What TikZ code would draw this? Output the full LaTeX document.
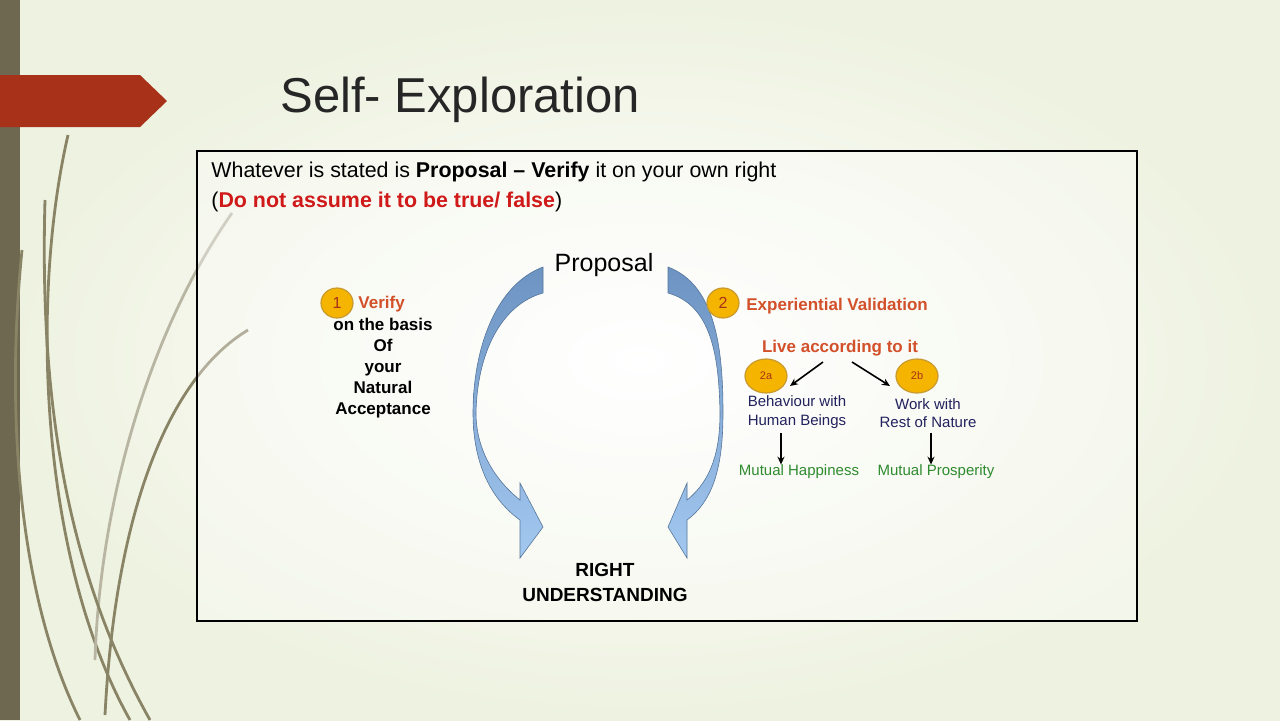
\documentclass[tikz,border=0pt]{standalone}
\usepackage{fontspec}
\setmainfont{Liberation Sans}
\usetikzlibrary{arrows.meta}
\definecolor{bgc}{HTML}{EEF2E0}
\definecolor{strip}{HTML}{6E6850}
\definecolor{redarr}{HTML}{A8311A}
\definecolor{grass}{HTML}{8A8466}
\definecolor{redt}{HTML}{D01A1A}
\definecolor{orng}{HTML}{D2502A}
\definecolor{navy}{HTML}{22225E}
\definecolor{grn}{HTML}{2E8B2E}
\definecolor{cfill}{HTML}{F5B400}
\definecolor{cdraw}{HTML}{C89A30}
\definecolor{blueA}{HTML}{6C93C2}
\definecolor{blueB}{HTML}{A3C8F0}
\tikzset{
  circ/.style={ellipse, fill=cfill, draw=cdraw, line width=0.6pt, minimum width=16pt, minimum height=15pt, inner sep=0pt, text=orng},
  body/.style={font=\fontsize{8.5}{10}\selectfont\bfseries, align=center, inner sep=0pt},
  blk/.style={-{Stealth[length=4pt,width=3.5pt]}, line width=0.8pt},
  bigarrow/.style={top color=blueA, bottom color=blueB, draw=blueA!80!black, line width=0.3pt}
}
\usetikzlibrary{shapes.geometric}
\begin{document}
\begin{tikzpicture}[x=0.5pt,y=-0.5pt]
\useasboundingbox (0,0) rectangle (1280,720);
\shade[inner color=white, outer color=bgc] (0,0) rectangle (1280,720);
\fill[strip] (0,0) rectangle (20,720);
% grass
\begin{scope}[grass, line width=1.4pt]
\draw (130,720) .. controls (40,560) and (30,300) .. (68,135);
\draw (80,720) .. controls (20,600) and (5,420) .. (22,250);
\draw (105,715) .. controls (115,520) and (165,380) .. (248,330);
\draw[grass!60] (95,660) .. controls (100,500) and (150,330) .. (232,213);
\draw (150,720) .. controls (60,560) and (40,380) .. (45,200);
\end{scope}
\fill[redarr] (0,75) -- (140,75) -- (167,101) -- (140,127) -- (0,127) -- cycle;
\node[anchor=west, font=\fontsize{24.5}{28}\selectfont, text=black!85, inner sep=0] (title) at (280,100) {Self- Exploration};
\draw[black, line width=0.7pt, fill=white, fill opacity=0.35] (197,151) rectangle (1137,621);
\node[anchor=west, font=\fontsize{10.7}{12}\selectfont, inner sep=0] (l1) at (211,172) {Whatever is stated is \textbf{Proposal -- Verify} it on your own right};
\node[anchor=west, font=\fontsize{10.7}{12}\selectfont, inner sep=0] (l2) at (211,202) {(\textcolor{redt}{\textbf{Do not assume it to be true/ false}})};
% big arrows
\path[bigarrow] (543,267) .. controls (495,285) and (473,350) .. (473,413)
  .. controls (473,465) and (492,500) .. (520,520) -- (520,558) -- (543,527) -- (520,483) -- (520,500)
  .. controls (495,480) and (476,450) .. (476,413) .. controls (477,355) and (500,305) .. (543,293) -- cycle;
\path[bigarrow] (668,267) .. controls (716,285) and (723,350) .. (723,413)
  .. controls (723,465) and (714,500) .. (687,520) -- (687,558) -- (668,527) -- (687,483) -- (687,500)
  .. controls (712,480) and (720,450) .. (720,413) .. controls (719,355) and (711,305) .. (668,293) -- cycle;
\node[font=\fontsize{12.5}{14}\selectfont] (prop) at (604,265) {Proposal};
\node[body, font=\fontsize{9.5}{12.5}\selectfont\bfseries] (ru) at (605,582) {RIGHT\\UNDERSTANDING};
% left
\node[circ, text=redarr] (c1) at (337,303) {\fontsize{8}{9}\selectfont 1};
\node[anchor=west, body, text=orng] (ver) at (358,304) {Verify};
\node[body, font=\fontsize{8.5}{10.6}\selectfont\bfseries] (basis) at (383,368) {on the basis\\Of\\your\\Natural\\Acceptance};
% right
\node[circ, text=redarr] (c2) at (723,303) {\fontsize{8}{9}\selectfont 2};
\node[anchor=west, body, text=orng] (ev) at (746,306) {Experiential Validation};
\node[body, text=orng] (live) at (840,348) {Live according to it};
\node[circ, minimum width=21pt, minimum height=17pt, text=redarr] (c2a) at (766,376) {\fontsize{5.5}{6}\selectfont 2a};
\node[circ, minimum width=21pt, minimum height=17pt, text=redarr] (c2b) at (917,376) {\fontsize{5.5}{6}\selectfont 2b};
\coordinate (la) at (823,362); \coordinate (lb) at (852,362);
\coordinate (ta) at (790,386); \coordinate (tb) at (890,386);
\draw[blk] (la) -- (ta);
\draw[blk] (lb) -- (tb);
\node[align=center, text=navy, font=\fontsize{7.5}{9.3}\selectfont, inner sep=0] (beh) at (797,412) {Behaviour with\\Human Beings};
\node[align=center, text=navy, font=\fontsize{7.5}{9.3}\selectfont, inner sep=0] (work) at (928,413) {Work with\\Rest of Nature};
\node[text=grn, font=\fontsize{7.5}{9}\selectfont, inner sep=0] (mh) at (799,472) {Mutual Happiness};
\node[text=grn, font=\fontsize{7.5}{9}\selectfont, inner sep=0] (mp) at (936,472) {Mutual Prosperity};
\draw[blk] (781,433) -- (mh.north -| 781,0);
\draw[blk] (931,433) -- (mp.north -| 931,0);
\end{tikzpicture}
\end{document}
